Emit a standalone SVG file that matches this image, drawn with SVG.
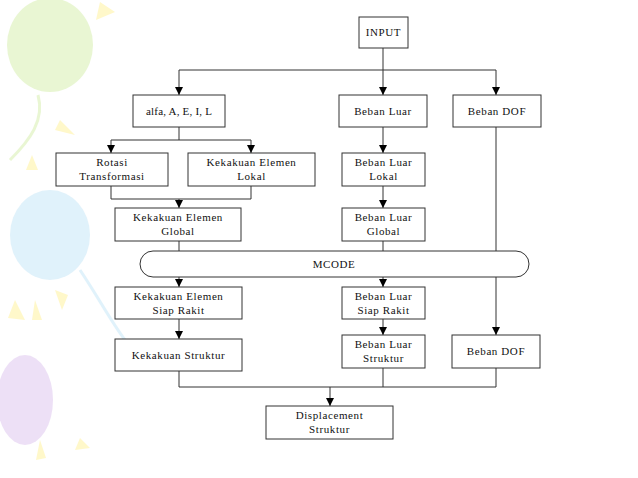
<svg xmlns="http://www.w3.org/2000/svg" width="638" height="478" viewBox="0 0 638 478">
<defs>
<marker id="ah" viewBox="0 0 8 8" refX="8" refY="4" markerWidth="8" markerHeight="8" markerUnits="userSpaceOnUse" orient="auto"><path d="M0,0 L8,4 L0,8 Z" fill="#000"/></marker>
<style>
.b{fill:#fff;stroke:#333;stroke-width:1}
.t{font-family:"Liberation Serif",serif;font-size:11px;letter-spacing:0.6px;fill:#111;text-anchor:middle}
.c{fill:none;stroke:#333;stroke-width:1}
.a{marker-end:url(#ah)}
</style>
</defs>
<rect width="638" height="478" fill="#fff"/>
<g id="background" opacity="0.55">
<ellipse cx="50" cy="45" rx="43" ry="47" fill="#d8f0b0"/>
<path d="M38,95 C45,120 30,140 10,160" fill="none" stroke="#d8f0b0" stroke-width="3"/>
<ellipse cx="50" cy="235" rx="40" ry="45" fill="#c8e8f8"/>
<path d="M80,270 C100,300 110,320 125,340" fill="none" stroke="#c8e8f8" stroke-width="3"/>
<ellipse cx="25" cy="400" rx="28" ry="45" fill="#e0c8f0"/>
<path d="M100,2 L115,12 L96,20 Z M60,120 L75,135 L55,130 Z M32,155 L26,170 L38,170 Z M15,300 L25,320 L8,318 Z M35,300 L32,320 L42,320 Z M55,290 L62,310 L68,295 Z M80,438 L90,448 L75,450 Z M40,440 L36,460 L46,458 Z" fill="#fff3a0"/>
</g>
<g id="connectors">
<path class="c" d="M383,48 V70 M179,70 H496"/>
<path class="c a" d="M179,70 V95"/><path class="c a" d="M383,70 V95"/><path class="c a" d="M496,70 V95"/>
<path class="c" d="M179,127 V140 M111,140 H251"/>
<path class="c a" d="M111,140 V153"/><path class="c a" d="M251,140 V153"/>
<path class="c" d="M111,186 V199 H251 V186"/>
<path class="c a" d="M179,199 V208"/>
<path class="c a" d="M383,127 V153"/><path class="c a" d="M383,186 V208"/>
<path class="c" d="M179,241 V251 M383,241 V251 M496,127 V251"/>
<path class="c a" d="M179,277 V287"/><path class="c a" d="M383,277 V287"/><path class="c a" d="M496,277 V335"/>
<path class="c a" d="M179,319 V339"/><path class="c a" d="M383,319 V335"/>
<path class="c" d="M179,371 V387 H496 V368 M383,368 V387"/>
<path class="c a" d="M330,387 V406"/>
</g>
<g id="input"><rect class="b" x="359" y="17" width="49" height="31"/><text class="t" x="383.5" y="36">INPUT</text></g>
<g id="alfa"><rect class="b" x="133" y="95" width="92" height="32"/><text class="t" x="179" y="115" style="letter-spacing:0.2px">alfa, A, E, I, L</text></g>
<g id="bebanluar"><rect class="b" x="339" y="95" width="88" height="32"/><text class="t" x="383" y="115">Beban Luar</text></g>
<g id="bebandof1"><rect class="b" x="453" y="95" width="88" height="32"/><text class="t" x="497" y="115">Beban DOF</text></g>
<g id="rotasi"><rect class="b" x="56" y="153" width="112" height="33"/><text class="t" x="112" y="166">Rotasi</text><text class="t" x="112" y="180">Transformasi</text></g>
<g id="kel"><rect class="b" x="188" y="153" width="127" height="33"/><text class="t" x="251.5" y="166">Kekakuan Elemen</text><text class="t" x="251.5" y="180">Lokal</text></g>
<g id="bll"><rect class="b" x="342" y="153" width="83" height="33"/><text class="t" x="383.5" y="166">Beban Luar</text><text class="t" x="383.5" y="180">Lokal</text></g>
<g id="keg"><rect class="b" x="115" y="208" width="126" height="33"/><text class="t" x="178" y="221">Kekakuan Elemen</text><text class="t" x="178" y="235">Global</text></g>
<g id="blg"><rect class="b" x="342" y="208" width="83" height="33"/><text class="t" x="383.5" y="221">Beban Luar</text><text class="t" x="383.5" y="235">Global</text></g>
<g id="mcode"><rect class="b" x="140" y="251" width="389" height="26" rx="13"/><text class="t" x="334" y="268">MCODE</text></g>
<g id="kesr"><rect class="b" x="115" y="287" width="127" height="32"/><text class="t" x="178.5" y="300">Kekakuan Elemen</text><text class="t" x="178.5" y="314">Siap Rakit</text></g>
<g id="blsr"><rect class="b" x="342" y="287" width="83" height="32"/><text class="t" x="383.5" y="300">Beban Luar</text><text class="t" x="383.5" y="314">Siap Rakit</text></g>
<g id="ks"><rect class="b" x="115" y="339" width="127" height="32"/><text class="t" x="178.5" y="359">Kekakuan Struktur</text></g>
<g id="bls"><rect class="b" x="342" y="335" width="83" height="33"/><text class="t" x="383.5" y="348">Beban Luar</text><text class="t" x="383.5" y="362">Struktur</text></g>
<g id="bebandof2"><rect class="b" x="452" y="335" width="88" height="33"/><text class="t" x="496" y="355">Beban DOF</text></g>
<g id="disp"><rect class="b" x="266" y="406" width="127" height="33"/><text class="t" x="329.5" y="419">Displacement</text><text class="t" x="329.5" y="433">Struktur</text></g>
</svg>
